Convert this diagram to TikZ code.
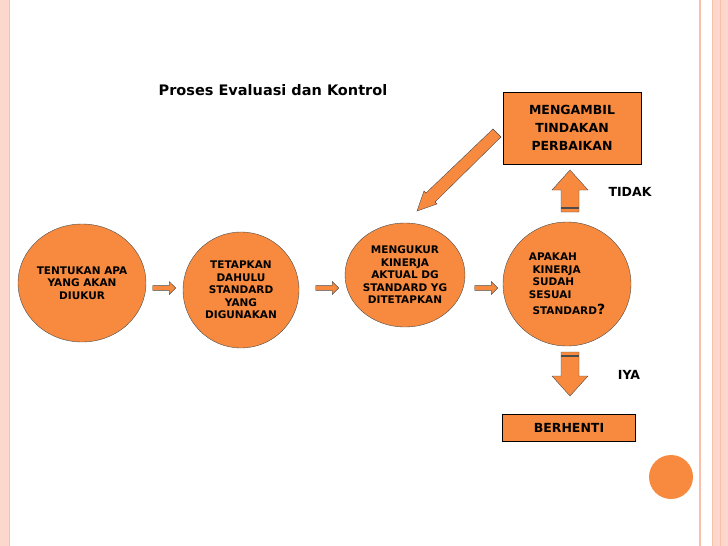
\documentclass[tikz,border=0pt]{standalone}
\usepackage{fontspec}
\setmainfont{DejaVu Sans}
\usetikzlibrary{shapes.geometric,shapes.arrows,calc}
\definecolor{org}{RGB}{247,138,62}
\definecolor{pinkb}{RGB}{250,190,170}
\tikzset{
 blob/.style={ellipse,draw=black!70,fill=org,font=\bfseries\fontsize{10.5}{12.5}\selectfont,align=center,inner sep=0pt},
 rbox/.style={draw=black,fill=org,font=\bfseries\fontsize{12.5}{18}\selectfont,align=center,inner sep=0pt},
 sarrow/.style={single arrow,draw=black!70,fill=org,minimum height=23pt,minimum width=13pt,single arrow head extend=2pt,inner sep=1pt},
 lbl/.style={font=\bfseries\fontsize{12.5}{14}\selectfont},
 bigarr/.style={draw=black!70,fill=org}
}
\begin{document}
\begin{tikzpicture}[x=1pt,y=-1pt]
\useasboundingbox (0,0) rectangle (728,546);
\fill[pinkb!60] (0,0) rectangle (9,546);
\draw[pinkb,line width=1pt] (9,0)--(9,546);
\fill[pinkb!60] (712,0) rectangle (728,546);
\draw[pinkb,line width=1.5pt] (700,0)--(700,546);
\draw[pinkb,line width=1pt] (712,0)--(712,546);
\draw[pinkb,line width=1pt] (720,0)--(720,546);
\fill[org] (671,477) circle (22);
\node[font=\bfseries\fontsize{14.5}{17}\selectfont] (title) at (273,90) {Proses Evaluasi dan Kontrol};
\node[blob,minimum width=116pt,minimum height=118pt] (c1) at (82,283) {TENTUKAN APA\\YANG AKAN\\DIUKUR};
\node[blob,minimum width=116pt,minimum height=116pt] (c2) at (241,290) {TETAPKAN\\DAHULU\\STANDARD\\YANG\\DIGUNAKAN};
\node[blob,minimum width=120pt,minimum height=104pt] (c3) at (405,275) {MENGUKUR\\KINERJA\\AKTUAL DG\\STANDARD YG\\DITETAPKAN};
\node[blob,minimum width=128pt,minimum height=124pt,align=left] (c4) at (567,284) {APAKAH\\\ KINERJA\\\ SUDAH\\SESUAI\\[4pt]\ STANDARD{\fontsize{14}{14}\selectfont ?}};
\node[sarrow] (a1) at (163,288) {};
\node[sarrow] (a2) at (326,288) {};
\node[sarrow] (a3) at (485,288) {};
\node[rbox,minimum width=138pt,minimum height=72pt] (b1) at (572,128) {MENGAMBIL\\TINDAKAN\\PERBAIKAN};
\node[rbox,minimum width=133pt,minimum height=27pt] (b2) at (569,428) {BERHENTI};
\coordinate (up) at (570,170);
\draw[bigarr] (up) -- ++(18,20) -- ++(-9,0) -- ++(0,22) -- ++(-18,0) -- ++(0,-22) -- ++(-9,0) -- cycle;
\draw[black!70,line width=1.5pt] (561,208)--(579,208);
\coordinate (dn) at (570,396);
\draw[bigarr] (dn) -- ++(18,-20) -- ++(-9,0) -- ++(0,-24) -- ++(-18,0) -- ++(0,24) -- ++(-9,0) -- cycle;
\draw[black!70,line width=1.5pt] (561,356)--(579,356);
\node[lbl] (t1) at (630,192) {TIDAK};
\node[lbl] (t2) at (629,375) {IYA};
\coordinate (ds) at (497,133);
\coordinate (de) at (417,211);
\draw[bigarr] ($(ds)+(4,4)$) -- ($(de)+(18,-9)$) -- ($(de)+(20,-7)$) -- (de) -- ($(de)+(7,-20)$) -- ($(de)+(9,-18)$) -- ($(ds)+(-4,-4)$) -- cycle;
\end{tikzpicture}
\end{document}
